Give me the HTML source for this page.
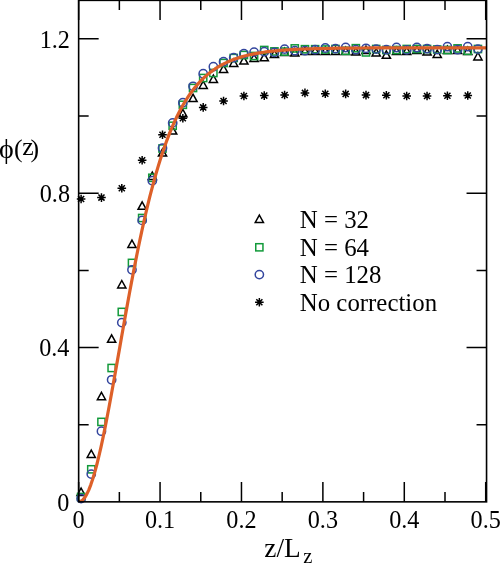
<!DOCTYPE html>
<html><head><meta charset="utf-8"><title>phi(z)</title>
<style>html,body{margin:0;padding:0;background:#fff}svg{display:block}text{font-family:"Liberation Serif",serif;fill:#000}</style></head>
<body>
<svg width="500" height="564" viewBox="0 0 500 564">
<rect width="500" height="564" fill="#fff"/>
<g fill="none" stroke="#000" stroke-width="1.5">
<path d="M81.1 488.1L85.2 495.5L77 495.5Z"/>
<path d="M91.27 450.1L95.37 457.5L87.17 457.5Z"/>
<path d="M101.45 392.3L105.55 399.7L97.35 399.7Z"/>
<path d="M111.62 334.9L115.72 342.3L107.53 342.3Z"/>
<path d="M121.8 280.5L125.9 287.9L117.7 287.9Z"/>
<path d="M131.97 240.1L136.07 247.5L127.88 247.5Z"/>
<path d="M142.15 201.9L146.25 209.3L138.05 209.3Z"/>
<path d="M152.32 172L156.42 179.4L148.22 179.4Z"/>
<path d="M162.5 148.7L166.6 156.1L158.4 156.1Z"/>
<path d="M172.68 126.7L176.78 134.1L168.58 134.1Z"/>
<path d="M182.85 109.3L186.95 116.7L178.75 116.7Z"/>
<path d="M193.03 94.2L197.12 101.6L188.93 101.6Z"/>
<path d="M203.2 81.1L207.3 88.5L199.1 88.5Z"/>
<path d="M213.38 75.1L217.47 82.5L209.28 82.5Z"/>
<path d="M223.55 65.1L227.65 72.5L219.45 72.5Z"/>
<path d="M233.72 59.1L237.82 66.5L229.62 66.5Z"/>
<path d="M243.9 56.7L248 64.1L239.8 64.1Z"/>
<path d="M254.08 54.1L258.18 61.5L249.98 61.5Z"/>
<path d="M264.25 53.4L268.35 60.8L260.15 60.8Z"/>
<path d="M274.43 50.1L278.53 57.5L270.32 57.5Z"/>
<path d="M284.6 48.1L288.7 55.5L280.5 55.5Z"/>
<path d="M294.77 48.5L298.88 55.9L290.67 55.9Z"/>
<path d="M304.95 47.1L309.05 54.5L300.85 54.5Z"/>
<path d="M315.12 47.1L319.23 54.5L311.02 54.5Z"/>
<path d="M325.3 47.1L329.4 54.5L321.2 54.5Z"/>
<path d="M335.48 47.1L339.58 54.5L331.38 54.5Z"/>
<path d="M345.65 47.1L349.75 54.5L341.55 54.5Z"/>
<path d="M355.83 47.7L359.93 55.1L351.73 55.1Z"/>
<path d="M366 46.1L370.1 53.5L361.9 53.5Z"/>
<path d="M376.18 48.5L380.28 55.9L372.08 55.9Z"/>
<path d="M386.35 50.9L390.45 58.3L382.25 58.3Z"/>
<path d="M396.52 47.1L400.62 54.5L392.42 54.5Z"/>
<path d="M406.7 47.1L410.8 54.5L402.6 54.5Z"/>
<path d="M416.88 46.1L420.98 53.5L412.77 53.5Z"/>
<path d="M427.05 47.7L431.15 55.1L422.95 55.1Z"/>
<path d="M437.23 50.1L441.33 57.5L433.12 57.5Z"/>
<path d="M447.4 46.1L451.5 53.5L443.3 53.5Z"/>
<path d="M457.58 46.1L461.68 53.5L453.48 53.5Z"/>
<path d="M467.75 47.1L471.85 54.5L463.65 54.5Z"/>
<path d="M477.93 52.5L482.03 59.9L473.83 59.9Z"/>
</g>
<g fill="none" stroke="#129a3a" stroke-width="1.5">
<rect x="77.5" y="493.4" width="7.2" height="7.2"/>
<rect x="87.67" y="465.7" width="7.2" height="7.2"/>
<rect x="97.85" y="418.3" width="7.2" height="7.2"/>
<rect x="108.03" y="364.4" width="7.2" height="7.2"/>
<rect x="118.2" y="308.3" width="7.2" height="7.2"/>
<rect x="128.38" y="259.3" width="7.2" height="7.2"/>
<rect x="138.55" y="214.4" width="7.2" height="7.2"/>
<rect x="148.72" y="174.2" width="7.2" height="7.2"/>
<rect x="158.9" y="144.9" width="7.2" height="7.2"/>
<rect x="169.08" y="122.2" width="7.2" height="7.2"/>
<rect x="179.25" y="101.2" width="7.2" height="7.2"/>
<rect x="189.43" y="84.4" width="7.2" height="7.2"/>
<rect x="199.6" y="74.4" width="7.2" height="7.2"/>
<rect x="209.78" y="69.4" width="7.2" height="7.2"/>
<rect x="219.95" y="59.4" width="7.2" height="7.2"/>
<rect x="230.12" y="54.4" width="7.2" height="7.2"/>
<rect x="240.3" y="51.4" width="7.2" height="7.2"/>
<rect x="250.48" y="52.4" width="7.2" height="7.2"/>
<rect x="260.65" y="46.4" width="7.2" height="7.2"/>
<rect x="270.82" y="47.8" width="7.2" height="7.2"/>
<rect x="281" y="48" width="7.2" height="7.2"/>
<rect x="291.17" y="44.8" width="7.2" height="7.2"/>
<rect x="301.35" y="45.6" width="7.2" height="7.2"/>
<rect x="311.52" y="45.6" width="7.2" height="7.2"/>
<rect x="321.7" y="45.9" width="7.2" height="7.2"/>
<rect x="331.88" y="45.4" width="7.2" height="7.2"/>
<rect x="342.05" y="47.2" width="7.2" height="7.2"/>
<rect x="352.23" y="44.6" width="7.2" height="7.2"/>
<rect x="362.4" y="48.8" width="7.2" height="7.2"/>
<rect x="372.58" y="45.4" width="7.2" height="7.2"/>
<rect x="382.75" y="46.4" width="7.2" height="7.2"/>
<rect x="392.92" y="46.4" width="7.2" height="7.2"/>
<rect x="403.1" y="45.4" width="7.2" height="7.2"/>
<rect x="413.27" y="45.4" width="7.2" height="7.2"/>
<rect x="423.45" y="45.4" width="7.2" height="7.2"/>
<rect x="433.62" y="45.9" width="7.2" height="7.2"/>
<rect x="443.8" y="46.4" width="7.2" height="7.2"/>
<rect x="453.98" y="44.8" width="7.2" height="7.2"/>
<rect x="464.15" y="47.2" width="7.2" height="7.2"/>
<rect x="474.33" y="45.4" width="7.2" height="7.2"/>
</g>
<g fill="none" stroke="#33459e" stroke-width="1.5">
<circle cx="81.1" cy="498.6" r="4.15"/>
<circle cx="91.27" cy="474.1" r="4.15"/>
<circle cx="101.45" cy="431.2" r="4.15"/>
<circle cx="111.62" cy="379.8" r="4.15"/>
<circle cx="121.8" cy="322.6" r="4.15"/>
<circle cx="131.97" cy="269.8" r="4.15"/>
<circle cx="142.15" cy="220.4" r="4.15"/>
<circle cx="152.32" cy="180.7" r="4.15"/>
<circle cx="162.5" cy="148.1" r="4.15"/>
<circle cx="172.68" cy="122.9" r="4.15"/>
<circle cx="182.85" cy="102.7" r="4.15"/>
<circle cx="193.03" cy="86.3" r="4.15"/>
<circle cx="203.2" cy="73.7" r="4.15"/>
<circle cx="213.38" cy="66.7" r="4.15"/>
<circle cx="223.55" cy="61.7" r="4.15"/>
<circle cx="233.72" cy="57.7" r="4.15"/>
<circle cx="243.9" cy="53.7" r="4.15"/>
<circle cx="254.08" cy="52.1" r="4.15"/>
<circle cx="264.25" cy="51.7" r="4.15"/>
<circle cx="274.43" cy="52.3" r="4.15"/>
<circle cx="284.6" cy="49.1" r="4.15"/>
<circle cx="294.77" cy="50.7" r="4.15"/>
<circle cx="304.95" cy="50.7" r="4.15"/>
<circle cx="315.12" cy="49.7" r="4.15"/>
<circle cx="325.3" cy="48" r="4.15"/>
<circle cx="335.48" cy="48.7" r="4.15"/>
<circle cx="345.65" cy="47.5" r="4.15"/>
<circle cx="355.83" cy="49.7" r="4.15"/>
<circle cx="366" cy="48.3" r="4.15"/>
<circle cx="376.18" cy="49.1" r="4.15"/>
<circle cx="386.35" cy="49.7" r="4.15"/>
<circle cx="396.52" cy="47.5" r="4.15"/>
<circle cx="406.7" cy="49.9" r="4.15"/>
<circle cx="416.88" cy="47.5" r="4.15"/>
<circle cx="427.05" cy="48.7" r="4.15"/>
<circle cx="437.23" cy="49.6" r="4.15"/>
<circle cx="447.4" cy="46.7" r="4.15"/>
<circle cx="457.58" cy="49.7" r="4.15"/>
<circle cx="467.75" cy="46.7" r="4.15"/>
<circle cx="477.93" cy="49.1" r="4.15"/>
</g>
<g fill="none" stroke="#000" stroke-width="1.5">
<path d="M76.8 199L85.4 199M78.06 195.96L84.14 202.04M81.1 194.7L81.1 203.3M84.14 195.96L78.06 202.04"/>
<path d="M97.15 197.6L105.75 197.6M98.41 194.56L104.49 200.64M101.45 193.3L101.45 201.9M104.49 194.56L98.41 200.64"/>
<path d="M117.5 188.2L126.1 188.2M118.76 185.16L124.84 191.24M121.8 183.9L121.8 192.5M124.84 185.16L118.76 191.24"/>
<path d="M137.85 160.2L146.45 160.2M139.11 157.16L145.19 163.24M142.15 155.9L142.15 164.5M145.19 157.16L139.11 163.24"/>
<path d="M158.2 134.8L166.8 134.8M159.46 131.76L165.54 137.84M162.5 130.5L162.5 139.1M165.54 131.76L159.46 137.84"/>
<path d="M178.55 118.2L187.15 118.2M179.81 115.16L185.89 121.24M182.85 113.9L182.85 122.5M185.89 115.16L179.81 121.24"/>
<path d="M198.9 107.4L207.5 107.4M200.16 104.36L206.24 110.44M203.2 103.1L203.2 111.7M206.24 104.36L200.16 110.44"/>
<path d="M219.25 101L227.85 101M220.51 97.96L226.59 104.04M223.55 96.7L223.55 105.3M226.59 97.96L220.51 104.04"/>
<path d="M239.6 96L248.2 96M240.86 92.96L246.94 99.04M243.9 91.7L243.9 100.3M246.94 92.96L240.86 99.04"/>
<path d="M259.95 95.6L268.55 95.6M261.21 92.56L267.29 98.64M264.25 91.3L264.25 99.9M267.29 92.56L261.21 98.64"/>
<path d="M280.3 95L288.9 95M281.56 91.96L287.64 98.04M284.6 90.7L284.6 99.3M287.64 91.96L281.56 98.04"/>
<path d="M300.65 92.9L309.25 92.9M301.91 89.86L307.99 95.94M304.95 88.6L304.95 97.2M307.99 89.86L301.91 95.94"/>
<path d="M321 93.7L329.6 93.7M322.26 90.66L328.34 96.74M325.3 89.4L325.3 98M328.34 90.66L322.26 96.74"/>
<path d="M341.35 93.9L349.95 93.9M342.61 90.86L348.69 96.94M345.65 89.6L345.65 98.2M348.69 90.86L342.61 96.94"/>
<path d="M361.7 95.1L370.3 95.1M362.96 92.06L369.04 98.14M366 90.8L366 99.4M369.04 92.06L362.96 98.14"/>
<path d="M382.05 95.2L390.65 95.2M383.31 92.16L389.39 98.24M386.35 90.9L386.35 99.5M389.39 92.16L383.31 98.24"/>
<path d="M402.4 96L411 96M403.66 92.96L409.74 99.04M406.7 91.7L406.7 100.3M409.74 92.96L403.66 99.04"/>
<path d="M422.75 96L431.35 96M424.01 92.96L430.09 99.04M427.05 91.7L427.05 100.3M430.09 92.96L424.01 99.04"/>
<path d="M443.1 95.8L451.7 95.8M444.36 92.76L450.44 98.84M447.4 91.5L447.4 100.1M450.44 92.76L444.36 98.84"/>
<path d="M463.45 95.5L472.05 95.5M464.71 92.46L470.79 98.54M467.75 91.2L467.75 99.8M470.79 92.46L464.71 98.54"/>
</g>
<clipPath id="c"><rect x="78.65" y="0" width="407.9" height="501.85"/></clipPath>
<path d="M78.65 502L80.69 501.5L82.72 500.02L84.76 497.56L86.79 494.15L88.83 489.81L90.86 484.58L92.9 478.51L94.93 471.64L96.97 464.03L99 455.74L101.04 446.83L103.07 437.37L105.11 427.42L107.14 417.05L109.18 406.32L111.21 395.3L113.25 384.06L115.28 372.66L117.32 361.15L119.36 349.6L121.39 338.05L123.43 326.55L125.46 315.15L127.5 303.88L129.53 292.79L131.57 281.9L133.6 271.24L135.64 260.84L137.67 250.72L139.71 240.89L141.74 231.36L143.78 222.15L145.81 213.26L147.85 204.7L149.88 196.47L151.92 188.58L153.95 181.01L155.99 173.77L158.02 166.84L160.06 160.24L162.1 153.94L164.13 147.95L166.17 142.25L168.2 136.83L170.24 131.69L172.27 126.81L174.31 122.19L176.34 117.81L178.38 113.67L180.41 109.76L182.45 106.06L184.48 102.56L186.52 99.27L188.55 96.15L190.59 93.22L192.62 90.46L194.66 87.85L196.69 85.4L198.73 83.09L200.76 80.92L202.8 78.87L204.84 76.95L206.87 75.14L208.91 73.45L210.94 71.85L212.98 70.35L215.01 68.95L217.05 67.62L219.08 66.38L221.12 65.22L223.15 64.13L225.19 63.1L227.22 62.14L229.26 61.24L231.29 60.39L233.33 59.6L235.36 58.85L237.4 58.16L239.43 57.5L241.47 56.89L243.51 56.32L245.54 55.78L247.58 55.27L249.61 54.8L251.65 54.36L253.68 53.94L255.72 53.56L257.75 53.19L259.79 52.85L261.82 52.53L263.86 52.23L265.89 51.95L267.93 51.69L269.96 51.44L272 51.21L274.03 51L276.07 50.8L278.1 50.61L280.14 50.43L282.17 50.26L284.21 50.11L286.25 49.96L288.28 49.83L290.32 49.7L292.35 49.58L294.39 49.47L296.42 49.36L298.46 49.27L300.49 49.17L302.53 49.09L304.56 49.01L306.6 48.93L308.63 48.86L310.67 48.8L312.7 48.74L314.74 48.68L316.77 48.62L318.81 48.57L320.84 48.53L322.88 48.48L331.02 48.33L339.16 48.21L347.3 48.13L355.44 48.06L363.58 48.01L371.73 47.97L379.87 47.93L388.01 47.91L396.15 47.89L404.29 47.88L412.43 47.87L420.57 47.86L428.71 47.85L436.85 47.85L445 47.84L453.14 47.84L461.28 47.84L469.42 47.84L477.56 47.84L485.7 47.84L493.84 47.83" clip-path="url(#c)" fill="none" stroke="#dd6029" stroke-width="3.2" stroke-linejoin="round"/>
<g stroke="#000" fill="none" stroke-width="1.6">
<rect x="78.65" y="0.35" width="407.9" height="501.5"/>
</g>
<g stroke="#000" fill="none" stroke-width="1.5">
<path d="M78.65 502V482M78.65 0V20M119.36 502V492M119.36 0V10M160.06 502V482M160.06 0V20M200.77 502V492M200.77 0V10M241.47 502V482M241.47 0V20M282.17 502V492M282.17 0V10M322.88 502V482M322.88 0V20M363.59 502V492M363.59 0V10M404.29 502V482M404.29 0V20M445 502V492M445 0V10M485.7 502V482M485.7 0V20M78.65 424.8H88.65M486.55 424.8H476.55M78.65 347.6H98.65M486.55 347.6H466.55M78.65 270.4H88.65M486.55 270.4H476.55M78.65 193.2H98.65M486.55 193.2H466.55M78.65 116H88.65M486.55 116H476.55M78.65 38.8H98.65M486.55 38.8H466.55"/>
</g>
<g font-size="24.2">
<text x="78.65" y="528.4" text-anchor="middle">0</text>
<text x="160.06" y="528.4" text-anchor="middle">0.1</text>
<text x="241.47" y="528.4" text-anchor="middle">0.2</text>
<text x="322.88" y="528.4" text-anchor="middle">0.3</text>
<text x="404.29" y="528.4" text-anchor="middle">0.4</text>
<text x="485.7" y="528.4" text-anchor="middle">0.5</text>
<text x="69.45" y="510.6" text-anchor="end">0</text>
<text x="69.45" y="356.2" text-anchor="end">0.4</text>
<text x="70" y="201.8" text-anchor="end">0.8</text>
<text x="69.9" y="47.9" text-anchor="end">1.2</text>
</g>
<text x="-0.9" y="158" font-size="28">ϕ</text>
<text font-size="25.8"><tspan x="14" y="156.8">(</tspan><tspan x="22.2" y="155">z</tspan><tspan x="30.6" y="156.8">)</tspan></text>
<text x="264.3" y="556.8" font-size="27.3">z/L<tspan font-size="20.5" dx="2.6" dy="6.5">z</tspan></text>
<path d="M259.35 215.1L263.45 222.5L255.25 222.5Z" fill="none" stroke="#000" stroke-width="1.5"/>
<rect x="255.75" y="243.7" width="7.2" height="7.2" fill="none" stroke="#129a3a" stroke-width="1.5"/>
<circle cx="259.35" cy="274.6" r="4.15" fill="none" stroke="#33459e" stroke-width="1.5"/>
<path d="M255.05 302.3L263.65 302.3M256.31 299.26L262.39 305.34M259.35 298L259.35 306.6M262.39 299.26L256.31 305.34" fill="none" stroke="#000" stroke-width="1.5"/>
<g font-size="24.85">
<text x="299.8" y="228.1">N = 32</text>
<text x="299.8" y="255.6">N = 64</text>
<text x="299.8" y="283">N = 128</text>
<text x="299.8" y="311">No correction</text>
</g>
</svg>
</body></html>
